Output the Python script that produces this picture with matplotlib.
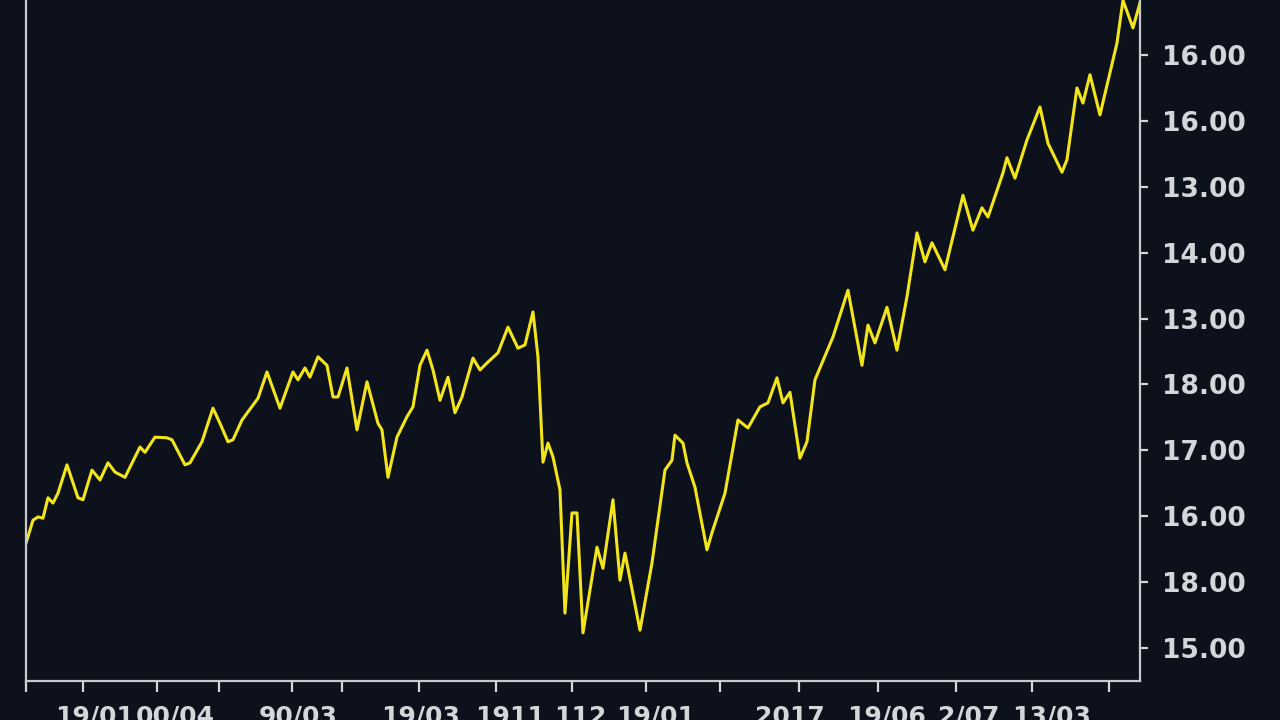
import numpy as np
import matplotlib
matplotlib.use("Agg")
import matplotlib.pyplot as plt

# trading day index and closing value
day = [0, 14, 24, 34, 44, 54, 64, 82, 104, 114, 132, 148, 164, 178, 198, 228, 238,
       258, 282, 292, 318, 328, 352, 374, 388, 404, 414, 432, 464, 482, 508, 534,
       544, 558, 568, 584, 602, 614, 624, 642, 662, 682, 704, 712, 724, 742, 762,
       774, 788, 802, 814, 828, 844, 858, 872, 894, 908, 924, 944, 964, 984, 998,
       1014, 1024, 1034, 1044, 1054, 1068, 1078, 1092, 1102, 1114, 1142, 1154,
       1174, 1188, 1198, 1228, 1252, 1278, 1292, 1298, 1314, 1322, 1338, 1362,
       1372, 1398, 1424, 1444, 1468, 1484, 1502, 1514, 1528, 1548, 1562, 1578,
       1614, 1644, 1672, 1684, 1698, 1722, 1742, 1762, 1782, 1798, 1812, 1838,
       1874, 1894, 1912, 1924, 1954, 1962, 1978, 2002, 2028, 2044, 2072, 2082,
       2102, 2114, 2128, 2148, 2182, 2194, 2214, 2228]
value = [16.59, 16.94, 16.99, 16.97, 17.28, 17.20, 17.35, 17.78, 17.28, 17.25,
         17.70, 17.55, 17.81, 17.67, 17.59, 18.05, 17.97, 18.20, 18.19, 18.16,
         17.78, 17.81, 18.13, 18.64, 18.41, 18.13, 18.16, 18.46, 18.79, 19.19,
         18.64, 19.19, 19.07, 19.25, 19.11, 19.42, 19.29, 18.81, 18.81, 19.25,
         18.31, 19.04, 18.41, 18.31, 17.59, 18.20, 18.51, 18.66, 19.29, 19.52,
         19.22, 18.76, 19.11, 18.57, 18.81, 19.40, 19.22, 19.34, 19.48, 19.87,
         19.55, 19.60, 20.10, 19.42, 17.82, 18.11, 17.90, 17.40, 15.53, 17.05,
         17.05, 15.23, 16.53, 16.21, 17.25, 16.03, 16.44, 15.27, 16.29, 17.70,
         17.85, 18.23, 18.11, 17.81, 17.44, 16.49, 16.75, 17.35, 18.46, 18.34,
         18.66, 18.72, 19.10, 18.72, 18.88, 17.88, 18.13, 19.07, 19.72, 20.43,
         19.29, 19.90, 19.63, 20.17, 19.52, 20.33, 21.30, 20.86, 21.15, 20.74,
         21.87, 21.34, 21.68, 21.54, 22.21, 22.44, 22.13, 22.71, 23.21, 22.66,
         22.22, 22.41, 23.50, 23.27, 23.70, 23.09, 24.18, 24.83, 24.41, 24.79]

# tick marks and (slightly offset) date labels under them
x_ticks = [0, 114, 262, 386, 532, 632, 786, 940, 1092, 1240, 1388, 1546, 1704,
           1860, 2012, 2166]
x_label_pos = [138, 298, 544, 790, 968, 1108, 1260, 1528, 1722, 1886, 2052]
x_labels = ["19/01", "00/04", "90/03", "19/03", "1911", "112", "19/01",
            "2017", "19/06", "2/07", "13/03"]
y_ticks = [15, 16, 17, 18, 19, 20, 21, 22, 23, 24]
y_labels = ["15.00", "18.00", "16.00", "17.00", "18.00", "13.00", "14.00",
            "13.00", "16.00", "16.00"]

bg = "#0d111b"
fg = "#d4d6da"

fig = plt.figure(figsize=(12.8, 7.2), dpi=100, facecolor=bg)
ax = fig.add_axes([0.0203, 0.0542, 0.8703, 0.961])
ax.set_facecolor(bg)

ax.plot(day, value, color="#f2e51b", lw=2.2, solid_joinstyle="round")

ax.set_xlim(0, 2228)
ax.set_ylim(14.5, 25.0)

ax.set_xticks(x_ticks)
ax.set_xticklabels([""] * len(x_ticks))
ax.set_xticks(x_label_pos, minor=True)
ax.set_xticklabels(x_labels, minor=True)
ax.set_yticks(y_ticks)
ax.set_yticklabels(y_labels)
ax.yaxis.tick_right()

ax.tick_params(axis="x", which="major", colors=fg, length=8, width=1.6)
ax.tick_params(axis="x", which="minor", colors=fg, length=0, pad=17,
               labelsize=18)
ax.tick_params(axis="y", colors=fg, length=6, width=1.6, pad=10,
               labelsize=19)
for lab in ax.get_xticklabels(minor=True) + ax.get_yticklabels():
    lab.set_fontweight("bold")

for side in ["left", "bottom", "right"]:
    ax.spines[side].set_color("#c6c9ce")
    ax.spines[side].set_linewidth(1.6)
ax.spines["top"].set_visible(False)

fig.savefig("out.png", dpi=100, facecolor=bg)
